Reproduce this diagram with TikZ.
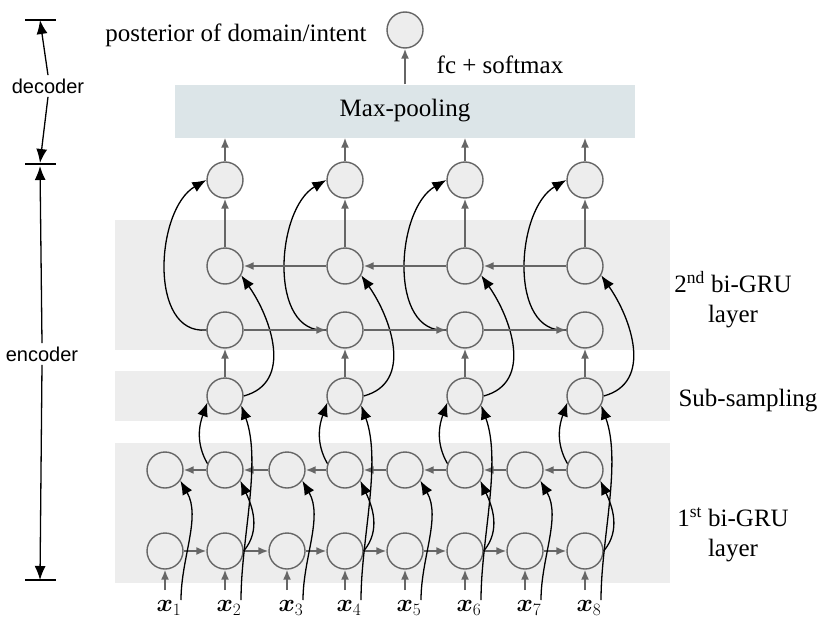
\documentclass[tikz,border=0pt]{standalone}
\usepackage{fontspec}
\setmainfont{Liberation Serif}
\newfontfamily\sansf{Liberation Sans}
\usepackage{amsmath,bm}
\usetikzlibrary{arrows.meta}
\begin{document}
\begin{tikzpicture}[x=1pt,y=-1pt,
  nd/.style={circle,draw=black!60,fill=black!7,line width=1.4pt,minimum size=36pt,inner sep=0pt},
  ga/.style={draw=black!60,line width=1.6pt,-{Latex[length=10pt,width=8pt]}},
  ba/.style={draw=black,line width=1.3pt,-{Latex[length=14pt,width=11pt]}},
  band/.style={fill=black!7,draw=none},
  lab/.style={font=\fontsize{25}{30}\selectfont,align=center}]
\useasboundingbox (0,0) rectangle (830,634);
\fill[band] (115,443) rectangle (670,583);
\fill[band] (115,371) rectangle (670,421);
\fill[band] (115,220) rectangle (670,350);
\definecolor{mpc}{HTML}{DCE5E8}
\node[fill=mpc,minimum width=460pt,minimum height=53pt,font=\fontsize{25}{30}\selectfont] (mp) at (405,111) {Max-pooling};
\node[nd] (post) at (405,30) {};
\node[lab,anchor=east] (pl) at (370,35) {posterior of domain/intent};
\node[lab] (fc) at (500,65) {fc + softmax};
\draw[ga] (mp.north) -- (post);
% bottom layers
\foreach \i/\x in {1/165,2/225,3/287,4/345,5/405,6/465,7/525,8/585}{
  \node[nd] (a\i) at (\x,551) {};
  \node[nd] (b\i) at (\x,470) {};
  \node[font=\fontsize{25}{28}\selectfont] (x\i) at (\x+4,608) {$\bm{x}_{\i}$};
  \coordinate (s\i) at (\x+16,600);
  \draw[ga] (\x,590) -- (a\i);
}
\foreach \i [evaluate=\i as \j using int(\i+1)] in {1,...,7}{
  \draw[ga] (a\i) -- (a\j);
  \draw[ga] (b\j) -- (b\i);
}
\foreach \i in {1,3,5,7}{
  \draw[ba] (s\i) to[out=90,in=-60,looseness=0.9] (b\i.-35);
}
\foreach \i in {2,4,6,8}{
  \draw[ba] (a\i.east) to[out=50,in=-65] (b\i.-35);
}
% upper layers
\foreach \k/\i/\x in {1/2/225,2/4/345,3/6/465,4/8/585}{
  \node[nd] (s-\k) at (\x,396) {};
  \node[nd] (c\k) at (\x,330) {};
  \node[nd] (d\k) at (\x,266) {};
  \node[nd] (t\k) at (\x,180) {};
  \draw[ba] (s\i) to[out=90,in=-70,looseness=0.8] (s-\k.-30);
  \draw[ba] (b\i.160) to[out=120,in=-110] (s-\k.200);
  \draw[ga] (s-\k) -- (c\k);
  \draw[ba] (s-\k.east) to[out=15,in=-55,looseness=1.1] (d\k.-30);
  \draw[ba] (c\k.west) to[out=185,in=210,looseness=1.0] (t\k.west);
  \draw[ga] (d\k) -- (t\k);
  \draw[ga] (t\k) -- (t\k|-mp.south);
}
\foreach \k [evaluate=\k as \j using int(\k+1)] in {1,2,3}{
  \draw[ga] (c\k) -- (c\j);
  \draw[ga] (d\j) -- (d\k);
}
% right labels
\node[lab] (l2) at (733,300) {2\textsuperscript{nd} bi-GRU\\layer};
\node[lab] (ls) at (748,401) {Sub-sampling};
\node[lab] (l1) at (733,535) {1\textsuperscript{st} bi-GRU\\layer};
% left
\node[font=\sansf\fontsize{20}{24}\selectfont] (dec) at (48,86) {decoder};
\node[font=\sansf\fontsize{20}{24}\selectfont] (enc) at (42,354) {encoder};
\coordinate (d0) at (40,20); \coordinate (d1) at (40,163); \coordinate (e1) at (40,580);
\draw[line width=1.3pt] (25,20) -- (56,20);
\draw[line width=1.3pt] (25,164) -- (56,164);
\draw[line width=1.3pt] (25,580) -- (56,580);
\draw[ba] (dec.north) -- (d0);
\draw[ba] (dec.south) -- (d1);
\draw[ba] (enc.north) -- (40,166);
\draw[ba] (enc.south) -- (e1);
\end{tikzpicture}
\end{document}
